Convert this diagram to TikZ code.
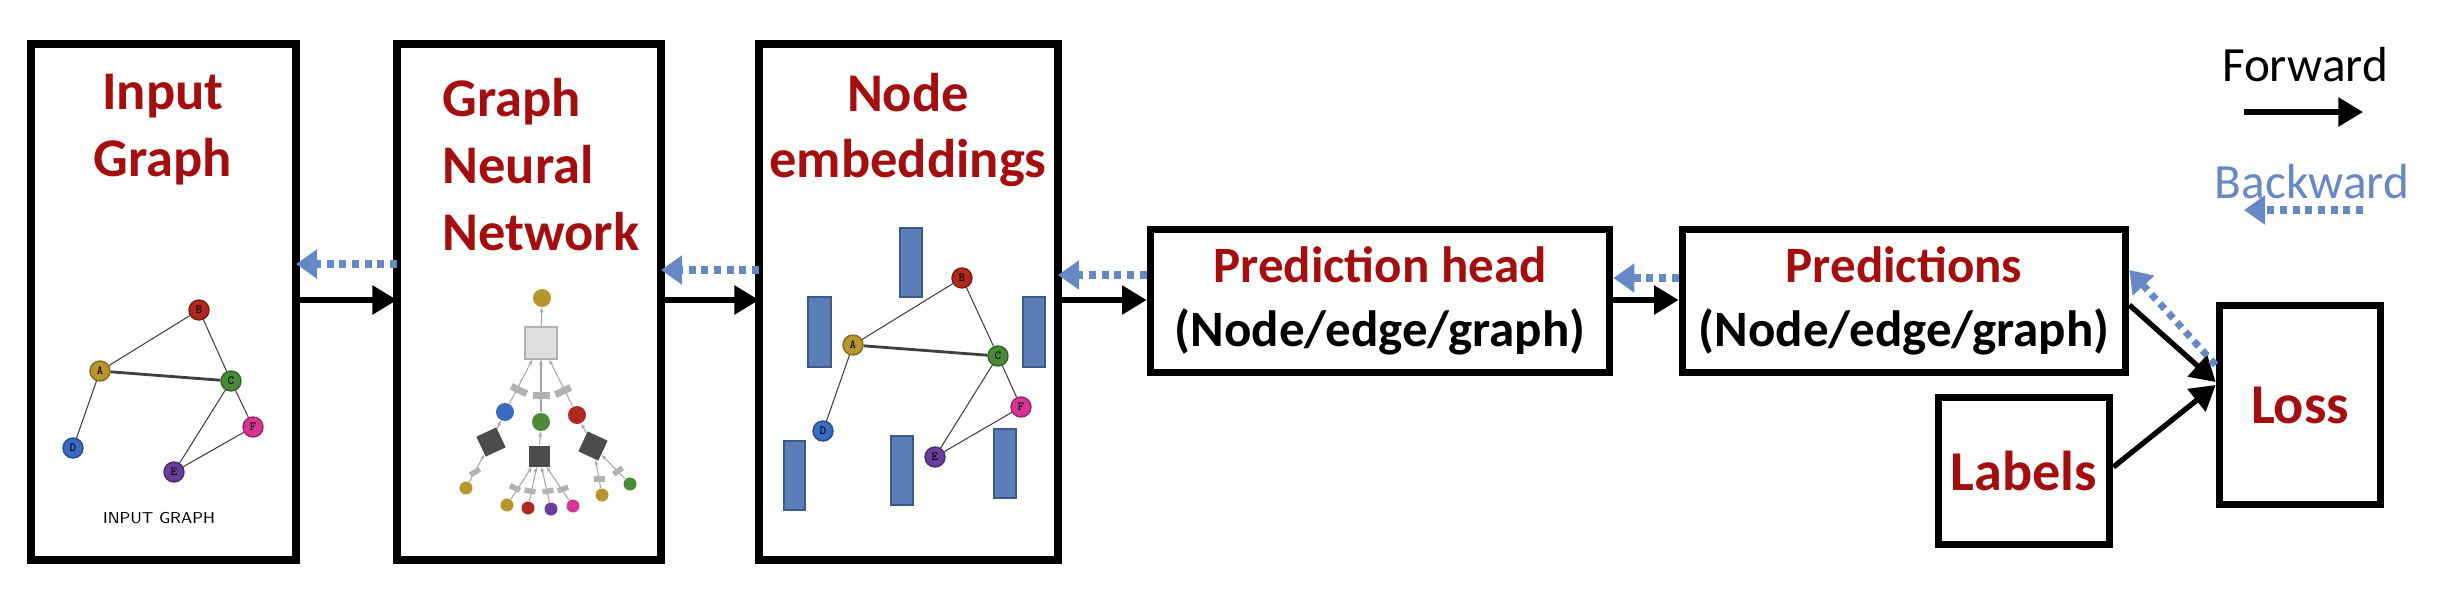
\documentclass[tikz,border=0pt]{standalone}
\usepackage{fontspec}
\setmainfont{Carlito}
\usetikzlibrary{arrows.meta}
\definecolor{tred}{HTML}{A50E0E}
\definecolor{bblue}{HTML}{6688C4}
\definecolor{cg}{HTML}{B8962E}\definecolor{cr}{HTML}{B0281E}\definecolor{cgr}{HTML}{4A8A38}
\definecolor{cb}{HTML}{3A6BC0}\definecolor{cp}{HTML}{6A3D9A}\definecolor{cpk}{HTML}{D63594}
\definecolor{barf}{HTML}{5B7DB8}\definecolor{bard}{HTML}{3E5A8A}
\tikzset{
 ttl/.style={text=tred,font=\fontsize{15.5}{19}\selectfont\bfseries,align=center},
 fw/.style={line width=1.5pt,-{Triangle[length=7pt,width=8pt]}},
 bw/.style={bblue,line width=2pt,dash pattern=on 2pt off 1.6pt,-{Triangle[length=6pt,width=8pt]}},
 gn/.style={circle,draw=#1!70!black,fill=#1,minimum size=2mm,inner sep=0,font=\ttfamily\fontsize{3.5}{3.5}\selectfont},
 tn/.style={circle,fill=#1,minimum size=1.3mm,inner sep=0},
 sr/.style={fill=gray!60,minimum width=1.7mm,minimum height=0.7mm,inner sep=0},
 ss/.style={sr,minimum width=1.1mm,minimum height=0.55mm},
 bar/.style={draw=bard,fill=barf,line width=0.8pt},
 ge/.style={gray!50!black,line width=0.3pt},
 te/.style={gray!70,line width=0.3pt,-{Stealth[length=1.5pt]}}
}
\begin{document}
\begin{tikzpicture}[x=0.01cm,y=-0.01cm]
\useasboundingbox (0,0) rectangle (2439,602);
% boxes
\draw[line width=2.2pt] (31,44) rectangle (296,560);
\coordinate (b1e) at (296,300); \coordinate (b1eb) at (296,264);
\draw[line width=2.2pt] (397,44) rectangle (661,560);
\coordinate (b2w) at (397,300); \coordinate (b2wb) at (397,264);
\coordinate (b2e) at (661,300); \coordinate (b2eb) at (661,270);
\draw[line width=2.2pt] (759,44) rectangle (1058,560);
\coordinate (b3w) at (759,300); \coordinate (b3wb) at (759,270);
\coordinate (b3e) at (1058,300); \coordinate (b3eb) at (1058,275);
\node[ttl] (t1) at (163,130) {Input\\Graph};
\node[ttl,align=left,anchor=north west] (t2) at (430,66) {Graph\\Neural\\Network};
\node[ttl] (t3) at (908,130) {Node\\embeddings};
\node[draw,line width=2.2pt,minimum width=459*0.01cm,minimum height=143*0.01cm,font=\fontsize{14.5}{18}\selectfont\bfseries,align=center] (ph) at (1380,301) {\textcolor{tred}{Prediction head}\\(Node/edge/graph)};
\node[draw,line width=2.2pt,minimum width=443*0.01cm,minimum height=143*0.01cm,font=\fontsize{14.5}{18}\selectfont\bfseries,align=center] (pr) at (1904,301) {\textcolor{tred}{Predictions}\\(Node/edge/graph)};
\node[draw,line width=2.2pt,minimum width=161*0.01cm,minimum height=199*0.01cm,text=tred,font=\fontsize{16}{19}\selectfont\bfseries] (loss) at (2300,405) {Loss};
\node[draw,line width=2.2pt,minimum width=171*0.01cm,minimum height=147*0.01cm,text=tred,font=\fontsize{16}{19}\selectfont\bfseries] (lab) at (2024,471) {Labels};
% arrows
\draw[fw] (b1e) -- (b2w);
\draw[fw] (b2e) -- (b3w);
\draw[fw] (b3e) -- (ph.west |- b3e);
\draw[fw] (ph.east |- 0,300) -- (pr.west |- 0,300);
\draw[bw] (b2wb) -- (b1eb);
\draw[bw] (b3wb) -- (b2eb);
\draw[bw] (ph.west |- 0,275) -- (b3eb);
\draw[bw] (pr.west |- 0,278) -- (ph.east |- 0,278);
\draw[fw] (pr.east |- 0,305) -- (loss.west |- 0,382);
\draw[bw] (loss.west |- 0,365) -- (pr.east |- 0,270);
\draw[fw] (lab.east |- 0,467) -- (loss.west |- 0,385);
% legend
\node[font=\fontsize{14}{16}\selectfont] (fwd) at (2305,65) {Forward};
\coordinate (l1a) at (2244,112); \coordinate (l1b) at (2363,112);
\draw[fw] (l1a) -- (l1b);
\node[font=\fontsize{14}{16}\selectfont,text=bblue] (bwd) at (2312,182) {Backward};
\coordinate (l2a) at (2363,210); \coordinate (l2b) at (2244,210);
\draw[bw] (l2a) -- (l2b);
% input graph
\node[gn=cr] (B) at (199,310) {B};
\node[gn=cg] (A) at (100,371) {A};
\node[gn=cgr] (C) at (231,381) {C};
\node[gn=cpk] (F) at (253,427) {F};
\node[gn=cb] (D) at (73,448) {D};
\node[gn=cp] (E) at (174,472) {E};
\draw[ge] (A)--(B) (B)--(C) (A)--(D) (C)--(E) (C)--(F) (E)--(F);
\draw[ge,line width=0.8pt] (A)--(C);
\node[font=\sffamily\fontsize{4.5}{5}\selectfont] (ig) at (159,518) {INPUT GRAPH};
% embeddings graph
\draw[bar] (900,228) rectangle (922,297);
\draw[bar] (808,297) rectangle (831,367);
\draw[bar] (1023,297) rectangle (1045,367);
\draw[bar] (784,441) rectangle (805,510);
\draw[bar] (891,436) rectangle (913,505);
\draw[bar] (994,429) rectangle (1016,498);
\node[gn=cr] (B2) at (962,278) {B};
\node[gn=cg] (A2) at (853,345) {A};
\node[gn=cgr] (C2) at (998,356) {C};
\node[gn=cpk] (F2) at (1021,407) {F};
\node[gn=cb] (D2) at (823,431) {D};
\node[gn=cp] (E2) at (935,457) {E};
\draw[ge] (A2)--(B2) (B2)--(C2) (A2)--(D2) (C2)--(E2) (C2)--(F2) (E2)--(F2);
\draw[ge,line width=0.8pt] (A2)--(C2);
% GNN tree
\node[tn=cg,minimum size=1.8mm] (r) at (542,298) {};
\node[draw=gray!60,fill=gray!25,minimum size=3.2mm,inner sep=0] (sq) at (541,343) {};
\node[tn=cb,minimum size=1.8mm] (n1) at (505,412) {};
\node[tn=cgr,minimum size=1.8mm] (n2) at (541,422) {};
\node[tn=cr,minimum size=1.8mm] (n3) at (577,415) {};
\node[fill=black!70,minimum size=2.2mm,inner sep=0,rotate=25] (d1) at (491,442) {};
\node[fill=black!70,minimum size=2.1mm,inner sep=0] (d2) at (539,456) {};
\node[fill=black!70,minimum size=2.2mm,inner sep=0,rotate=-25] (d3) at (593,446) {};
\node[tn=cg] (l1) at (466,488) {};
\node[tn=cg] (l2) at (507,505) {};
\node[tn=cr] (l3) at (528,508) {};
\node[tn=cp] (l4) at (551,509) {};
\node[tn=cpk] (l5) at (573,506) {};
\node[tn=cg] (l6) at (602,495) {};
\node[tn=cgr] (l7) at (630,484) {};
\draw[te] (sq)--(r);
\foreach \a in {n1,n2,n3} \draw[te] (\a)--(sq);
\draw[te] (d1)--(n1);
\draw[te] (d2)--(n2);
\draw[te] (d3)--(n3);
\draw[te] (l1)--(d1);
\foreach \a in {l2,l3,l4,l5} \draw[te] (\a)--(d2);
\foreach \a in {l6,l7} \draw[te] (\a)--(d3);
\node[sr,rotate=-25] (s1) at (519,390) {};
\node[sr] (s2) at (541,395) {};
\node[sr,rotate=25] (s3) at (563,391) {};
\node[ss,rotate=30] (s4) at (475,472) {};
\node[ss,rotate=-25] (s5) at (515,488) {};
\node[ss,rotate=-10] (s6) at (530,491) {};
\node[ss,rotate=8] (s7) at (548,491) {};
\node[ss,rotate=20] (s8) at (563,489) {};
\node[ss] (s9) at (599,479) {};
\node[ss,rotate=35] (s10) at (618,471) {};
\end{tikzpicture}
\end{document}
